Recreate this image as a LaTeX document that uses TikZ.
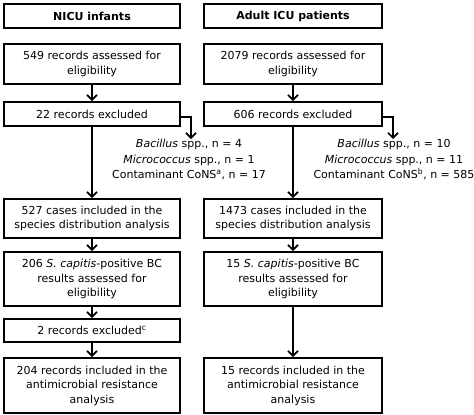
\documentclass[tikz,border=0pt]{standalone}
\usepackage{fontspec}
\setmainfont{DejaVu Sans}
\usetikzlibrary{arrows.meta}
\begin{document}
\begin{tikzpicture}[x=1bp,y=-1bp,
  box/.style={draw, line width=1.8bp, inner sep=0pt, align=center,
    font=\fontsize{11bp}{14.5bp}\selectfont},
  lbox/.style={box, minimum width=176bp},
  rbox/.style={box, minimum width=178bp},
  note/.style={align=center, inner sep=0pt, font=\fontsize{11bp}{15.5bp}\selectfont},
  arr/.style={line width=1.7bp, -{Straight Barb[length=5bp,width=10bp,line width=1.7bp]}}]
\useasboundingbox (0,0) rectangle (474,414);
% left column
\node[lbox, minimum height=24bp, font=\fontsize{11bp}{14.5bp}\selectfont\bfseries] (lt) at (92,16) {NICU infants};
\node[lbox, minimum height=40bp] (l2) at (92,64) {549 records assessed for\\eligibility};
\node[lbox, minimum height=24bp] (l3) at (92,114) {22 records excluded};
\node[lbox, minimum height=39bp] (l4) at (92,218.5) {527 cases included in the\\species distribution analysis};
\node[lbox, minimum height=54bp] (l5) at (92,279) {206 \textit{S. capitis}-positive BC\\results assessed for\\eligibility};
\node[lbox, minimum height=23bp] (l6) at (92,330.5) {2 records excluded\textsuperscript{c}};
\node[lbox, minimum height=55bp] (l7) at (92,385.5) {204 records included in the\\antimicrobial resistance\\analysis};
% right column
\node[rbox, minimum height=24bp, font=\fontsize{11bp}{14.5bp}\selectfont\bfseries] (rt) at (293,16) {Adult ICU patients};
\node[rbox, minimum height=40bp] (r2) at (293,64) {2079 records assessed for\\eligibility};
\node[rbox, minimum height=24bp] (r3) at (293,114) {606 records excluded};
\node[rbox, minimum height=39bp] (r4) at (293,218.5) {1473 cases included in the\\species distribution analysis};
\node[rbox, minimum height=54bp] (r5) at (293,279) {15 \textit{S. capitis}-positive BC\\results assessed for\\eligibility};
\node[rbox, minimum height=55bp] (r7) at (293,385.5) {15 records included in the\\antimicrobial resistance\\analysis};
% notes
\node[note, anchor=north] (ln) at (189,139) {\textit{Bacillus} spp., n = 4\\\textit{Micrococcus} spp., n = 1\\Contaminant CoNS\textsuperscript{a}, n = 17};
\node[note, anchor=north] (rn) at (394,139) {\textit{Bacillus} spp., n = 10\\\textit{Micrococcus} spp., n = 11\\Contaminant CoNS\textsuperscript{b}, n = 585};
% connectors
\draw[arr] (l2) -- (l3);
\draw[arr] (l3) -- (l4);
\draw[arr] (l4) -- (l5);
\draw[arr] (l5) -- (l6);
\draw[arr] (l6) -- (l7);
\draw[arr] (r2) -- (r3);
\draw[arr] (r3) -- (r4);
\draw[arr] (r4) -- (r5);
\draw[arr] (r5) -- (r7);
\draw[arr] (l3.east |- 0,117) -| (ln.north -| 191,0);
\draw[arr] (r3.east |- 0,117) -| (rn.north -| 393,0);
\end{tikzpicture}
\end{document}
